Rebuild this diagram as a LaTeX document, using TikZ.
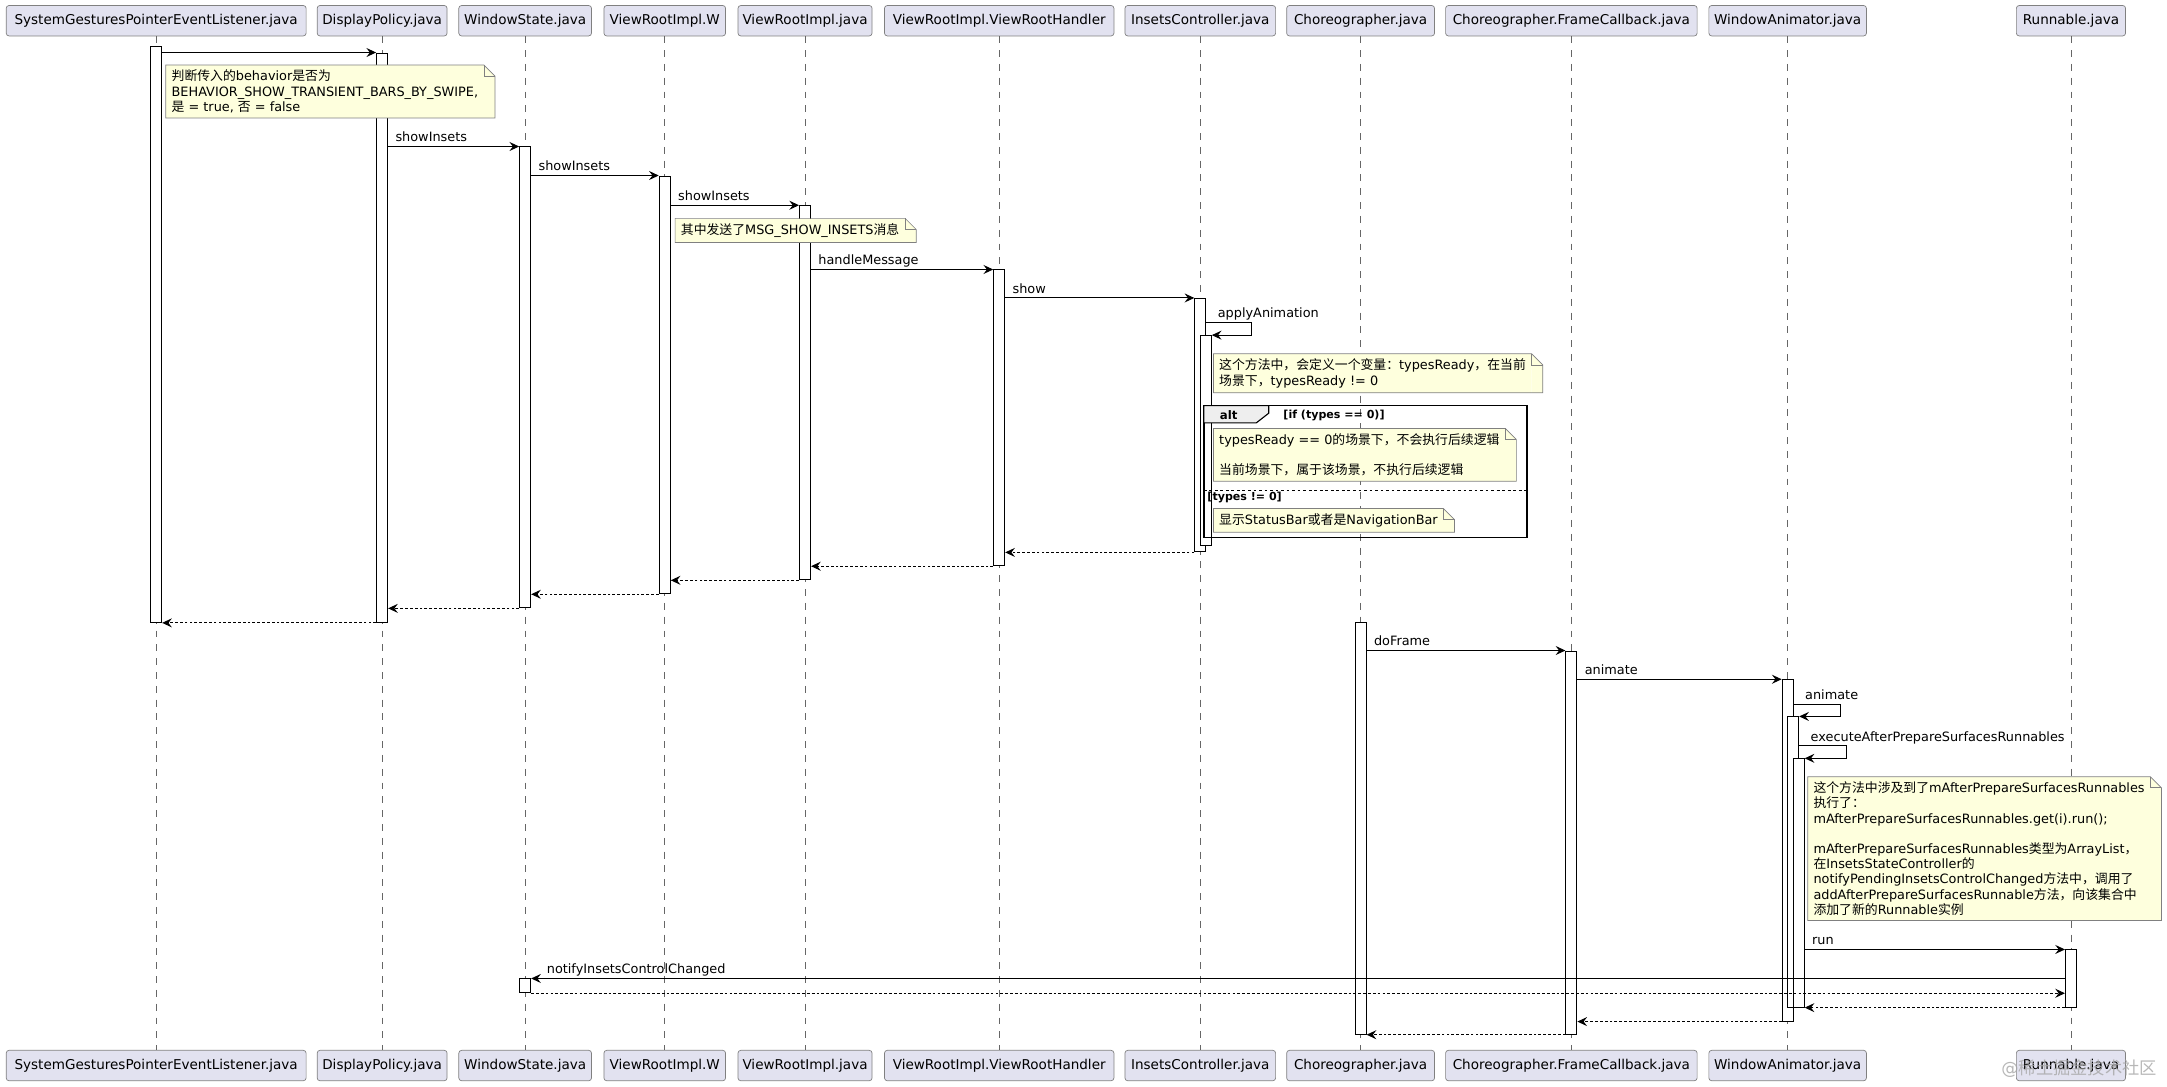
\documentclass[tikz,border=0pt]{standalone}
\usepackage{fontspec}
\setmainfont{DejaVu Sans}
\newfontfamily\cjk{Noto Sans CJK SC}
\usetikzlibrary{arrows.meta,calc}

\newcommand\zh[1]{{\cjk #1}}
% activation bar: name, participant, xshift, top, bottom
\newcommand\actbar[5]{%
  \pgfmathsetlengthmacro\barh{(#5-#4)*1pt}%
  \node[actbox, minimum height=\barh, xshift=#3] (#1) at (#2 |- 0,#4) {};}
% folded corner of a note
\newcommand\noteear[1]{%
  \fill[notefill] ([xshift=-0.3pt]#1.north east) -- ([xshift=8pt,yshift=-8pt]#1.north east) -- ([xshift=8pt]#1.south east) -- ([xshift=-0.3pt]#1.south east) -- cycle;
  \draw[noteline] (#1.north west) -- (#1.north east) -- ([xshift=8pt,yshift=-8pt]#1.north east) -- ([xshift=8pt]#1.south east) -- (#1.south west) -- cycle;
  \draw[noteline] (#1.north east) -- ([yshift=-8pt]#1.north east) -- ([xshift=8pt,yshift=-8pt]#1.north east);}

\begin{document}
\begin{tikzpicture}[x=1pt, y=-1pt,
  participant/.style={draw=black!50, fill=partfill, line width=0.5pt, rounded corners=2pt, minimum height=22pt, inner sep=0pt, font=\fontsize{9.8}{12}\selectfont},
  lifeline/.style={draw=black!60, line width=0.5pt, dash pattern=on 5pt off 5pt},
  actbox/.style={draw=black, fill=white, line width=0.7pt, minimum width=8pt, inner sep=0pt, anchor=north},
  msg/.style={draw=black, line width=0.7pt, -{Stealth[length=7pt,width=6.5pt,inset=2.5pt]}},
  ret/.style={msg, dash pattern=on 2pt off 1.5pt},
  lbl/.style={anchor=base west, inner sep=0pt, xshift=5pt, yshift=3.5pt, font=\fontsize{9.3}{11}\selectfont},
  note/.style={fill=notefill, anchor=north west, align=left, inner xsep=4pt, inner ysep=3.5pt, font=\fontsize{9.3}{11}\selectfont},
  noteline/.style={draw=black!50, line width=0.5pt},
  guard/.style={anchor=base west, inner sep=0pt, font=\bfseries\fontsize{8}{10}\selectfont}]
	% Define custom colors
	\definecolor{partfill}{HTML}{E2E2F0}
	\definecolor{notefill}{HTML}{FEFFDD}
	\definecolor{tabfill}{HTML}{EEEEEE}
	\path[use as bounding box, fill=white] (0,0) rectangle (1568,786);
	% participants, top and bottom
	\node[participant, minimum width=217pt] (p1) at (113,15) {SystemGesturesPointerEventListener.java};
	\node[participant, minimum width=94pt] (p2) at (276.5,15) {DisplayPolicy.java};
	\node[participant, minimum width=96pt] (p3) at (380,15) {WindowState.java};
	\node[participant, minimum width=88pt] (p4) at (481,15) {ViewRootImpl.W};
	\node[participant, minimum width=97pt] (p5) at (582.5,15) {ViewRootImpl.java};
	\node[participant, minimum width=166pt] (p6) at (723,15) {ViewRootImpl.ViewRootHandler};
	\node[participant, minimum width=109pt] (p7) at (868.5,15) {InsetsController.java};
	\node[participant, minimum width=107pt] (p8) at (984.5,15) {Choreographer.java};
	\node[participant, minimum width=182pt] (p9) at (1137,15) {Choreographer.FrameCallback.java};
	\node[participant, minimum width=114pt] (p10) at (1293.5,15) {WindowAnimator.java};
	\node[participant, minimum width=79pt] (p11) at (1498.5,15) {Runnable.java};
	\node[participant, minimum width=217pt] (q1) at (113,771) {SystemGesturesPointerEventListener.java};
	\node[participant, minimum width=94pt] (q2) at (276.5,771) {DisplayPolicy.java};
	\node[participant, minimum width=96pt] (q3) at (380,771) {WindowState.java};
	\node[participant, minimum width=88pt] (q4) at (481,771) {ViewRootImpl.W};
	\node[participant, minimum width=97pt] (q5) at (582.5,771) {ViewRootImpl.java};
	\node[participant, minimum width=166pt] (q6) at (723,771) {ViewRootImpl.ViewRootHandler};
	\node[participant, minimum width=109pt] (q7) at (868.5,771) {InsetsController.java};
	\node[participant, minimum width=107pt] (q8) at (984.5,771) {Choreographer.java};
	\node[participant, minimum width=182pt] (q9) at (1137,771) {Choreographer.FrameCallback.java};
	\node[participant, minimum width=114pt] (q10) at (1293.5,771) {WindowAnimator.java};
	\node[participant, minimum width=79pt] (q11) at (1498.5,771) {Runnable.java};
	% lifelines
	\draw[lifeline] (p1.south) -- (q1.north);
	\draw[lifeline] (p2.south) -- (q2.north);
	\draw[lifeline] (p3.south) -- (q3.north);
	\draw[lifeline] (p4.south) -- (q4.north);
	\draw[lifeline] (p5.south) -- (q5.north);
	\draw[lifeline] (p6.south) -- (q6.north);
	\draw[lifeline] (p7.south) -- (q7.north);
	\draw[lifeline] (p8.south) -- (q8.north);
	\draw[lifeline] (p9.south) -- (q9.north);
	\draw[lifeline] (p10.south) -- (q10.north);
	\draw[lifeline] (p11.south) -- (q11.north);
	% activations
	\actbar{aSG}{p1}{0pt}{33}{450}
	\actbar{aDP}{p2}{0pt}{38}{450}
	\actbar{aWS}{p3}{0pt}{106}{439.5}
	\actbar{aW}{p4}{0pt}{127}{429.3}
	\actbar{aVRI}{p5}{0pt}{148.5}{419.2}
	\actbar{aVRH}{p6}{0pt}{195}{409}
	\actbar{aIC}{p7}{0pt}{215.6}{399}
	\actbar{aIC2}{p7}{4pt}{242.5}{394.5}
	\actbar{aCh}{p8}{0pt}{450}{748}
	\actbar{aFC}{p9}{0pt}{470.7}{748}
	\actbar{aWA}{p10}{0pt}{491.5}{738.5}
	\actbar{aWA2}{p10}{4pt}{518.4}{729}
	\actbar{aWA3}{p10}{8pt}{548.7}{728.4}
	\actbar{aR}{p11}{0pt}{687}{728.4}
	\actbar{aWS2}{p3}{0pt}{708}{718}
	% calls
	\draw[msg] (aSG.east |- aDP.north) -- (aDP.north west);
	\draw[msg] (aDP.east |- aWS.north) -- node[lbl, pos=0] (l1) {showInsets} (aWS.north west);
	\draw[msg] (aWS.east |- aW.north) -- node[lbl, pos=0] (l2) {showInsets} (aW.north west);
	\draw[msg] (aW.east |- aVRI.north) -- node[lbl, pos=0] (l3) {showInsets} (aVRI.north west);
	\draw[msg] (aVRI.east |- aVRH.north) -- node[lbl, pos=0] (l4) {handleMessage} (aVRH.north west);
	\draw[msg] (aVRH.east |- aIC.north) -- node[lbl, pos=0] (l5) {show} (aIC.north west);
	\draw[msg] ($(aIC.east |- aIC2.north)+(0,-9)$) -- node[lbl, pos=0, xshift=3pt] (l6) {applyAnimation} ++(33,0) |- (aIC2.north east);
	% returns
	\draw[ret] (aIC.south west) -- (aVRH.east |- aIC.south);
	\draw[ret] (aVRH.south west) -- (aVRI.east |- aVRH.south);
	\draw[ret] (aVRI.south west) -- (aW.east |- aVRI.south);
	\draw[ret] (aW.south west) -- (aWS.east |- aW.south);
	\draw[ret] (aWS.south west) -- (aDP.east |- aWS.south);
	\draw[ret] (aDP.south west) -- (aSG.east |- aDP.south);
	% frame callback part
	\draw[msg] (aCh.east |- aFC.north) -- node[lbl, pos=0] (l7) {doFrame} (aFC.north west);
	\draw[msg] (aFC.east |- aWA.north) -- node[lbl, pos=0] (l8) {animate} (aWA.north west);
	\draw[msg] ($(aWA.east |- aWA2.north)+(0,-9)$) -- node[lbl, pos=0, xshift=3pt] (l9) {animate} ++(34,0) |- (aWA2.north east);
	\draw[msg] ($(aWA2.east |- aWA3.north)+(0,-9)$) -- node[lbl, pos=0, xshift=3pt] (l10) {executeAfterPrepareSurfacesRunnables} ++(34,0) |- (aWA3.north east);
	\draw[msg] (aWA3.east |- aR.north) -- node[lbl, pos=0] (l11) {run} (aR.north west);
	\draw[msg] (aR.west |- aWS2.north) -- node[lbl, pos=1, xshift=6pt] (l12) {notifyInsetsControlChanged} (aWS2.north east);
	\draw[ret] (aWS2.south east) -- (aR.west |- aWS2.south);
	\draw[ret] (aR.south west) -- (aWA3.east |- aR.south);
	\draw[ret] (aWA.south west) -- (aFC.east |- aWA.south);
	\draw[ret] (aFC.south west) -- (aCh.east |- aFC.south);
	% alt frame
	\draw[line width=1.2pt] (871,293.5) rectangle (1105,389);
	\filldraw[fill=tabfill, draw=black, line width=0.8pt] (871,293.5) -- (918,293.5) -- (918,299) -- (909,306) -- (871,306) -- cycle;
	\node[guard, font=\bfseries\fontsize{8.5}{10}\selectfont] (alt) at (882.5,303.5) {alt};
	\node[guard] (g1) at (928.5,302.5) {[if (types == 0)]};
	\draw[line width=0.6pt, dash pattern=on 2pt off 2pt] (871,355) -- (1105,355);
	\node[guard] (g2) at (873.5,362.5) {[types != 0]};
	% notes
	\node[note] (n1) at (120,47) {\zh{判断传入的}behavior\zh{是否为}\\BEHAVIOR\_SHOW\_TRANSIENT\_BARS\_BY\_SWIPE,\\\zh{是} = true, \zh{否} = false};
	\noteear{n1}
	\node[note] (n2) at (488.5,158) {\zh{其中发送了}MSG\_SHOW\_INSETS\zh{消息}};
	\noteear{n2}
	\node[note] (n3) at (878,256) {\zh{这个方法中，会定义一个变量：}typesReady\zh{，在当前}\\\zh{场景下，}typesReady != 0};
	\noteear{n3}
	\node[note] (n4) at (878,310) {typesReady == 0\zh{的场景下，不会执行后续逻辑}\\[11pt]\zh{当前场景下，属于该场景，不执行后续逻辑}};
	\noteear{n4}
	\node[note] (n5) at (878,368) {\zh{显示}StatusBar\zh{或者是}NavigationBar};
	\noteear{n5}
	\node[note] (n6) at (1308,562) {\zh{这个方法中涉及到了}mAfterPrepareSurfacesRunnables\\\zh{执行了：}\\mAfterPrepareSurfacesRunnables.get(i).run();\\[11pt]mAfterPrepareSurfacesRunnables\zh{类型为}ArrayList\zh{，}\\\zh{在}InsetsStateController\zh{的}\\notifyPendingInsetsControlChanged\zh{方法中，调用了}\\addAfterPrepareSurfacesRunnable\zh{方法，向该集合中}\\\zh{添加了新的}Runnable\zh{实例}};
	\noteear{n6}
	\node[text=black!35, text opacity=0.8, font=\fontsize{12.5}{15}\selectfont, anchor=west, inner sep=0pt] (wm) at (1448,773) {@\zh{稀土掘金技术社区}};
\end{tikzpicture}
\end{document}
